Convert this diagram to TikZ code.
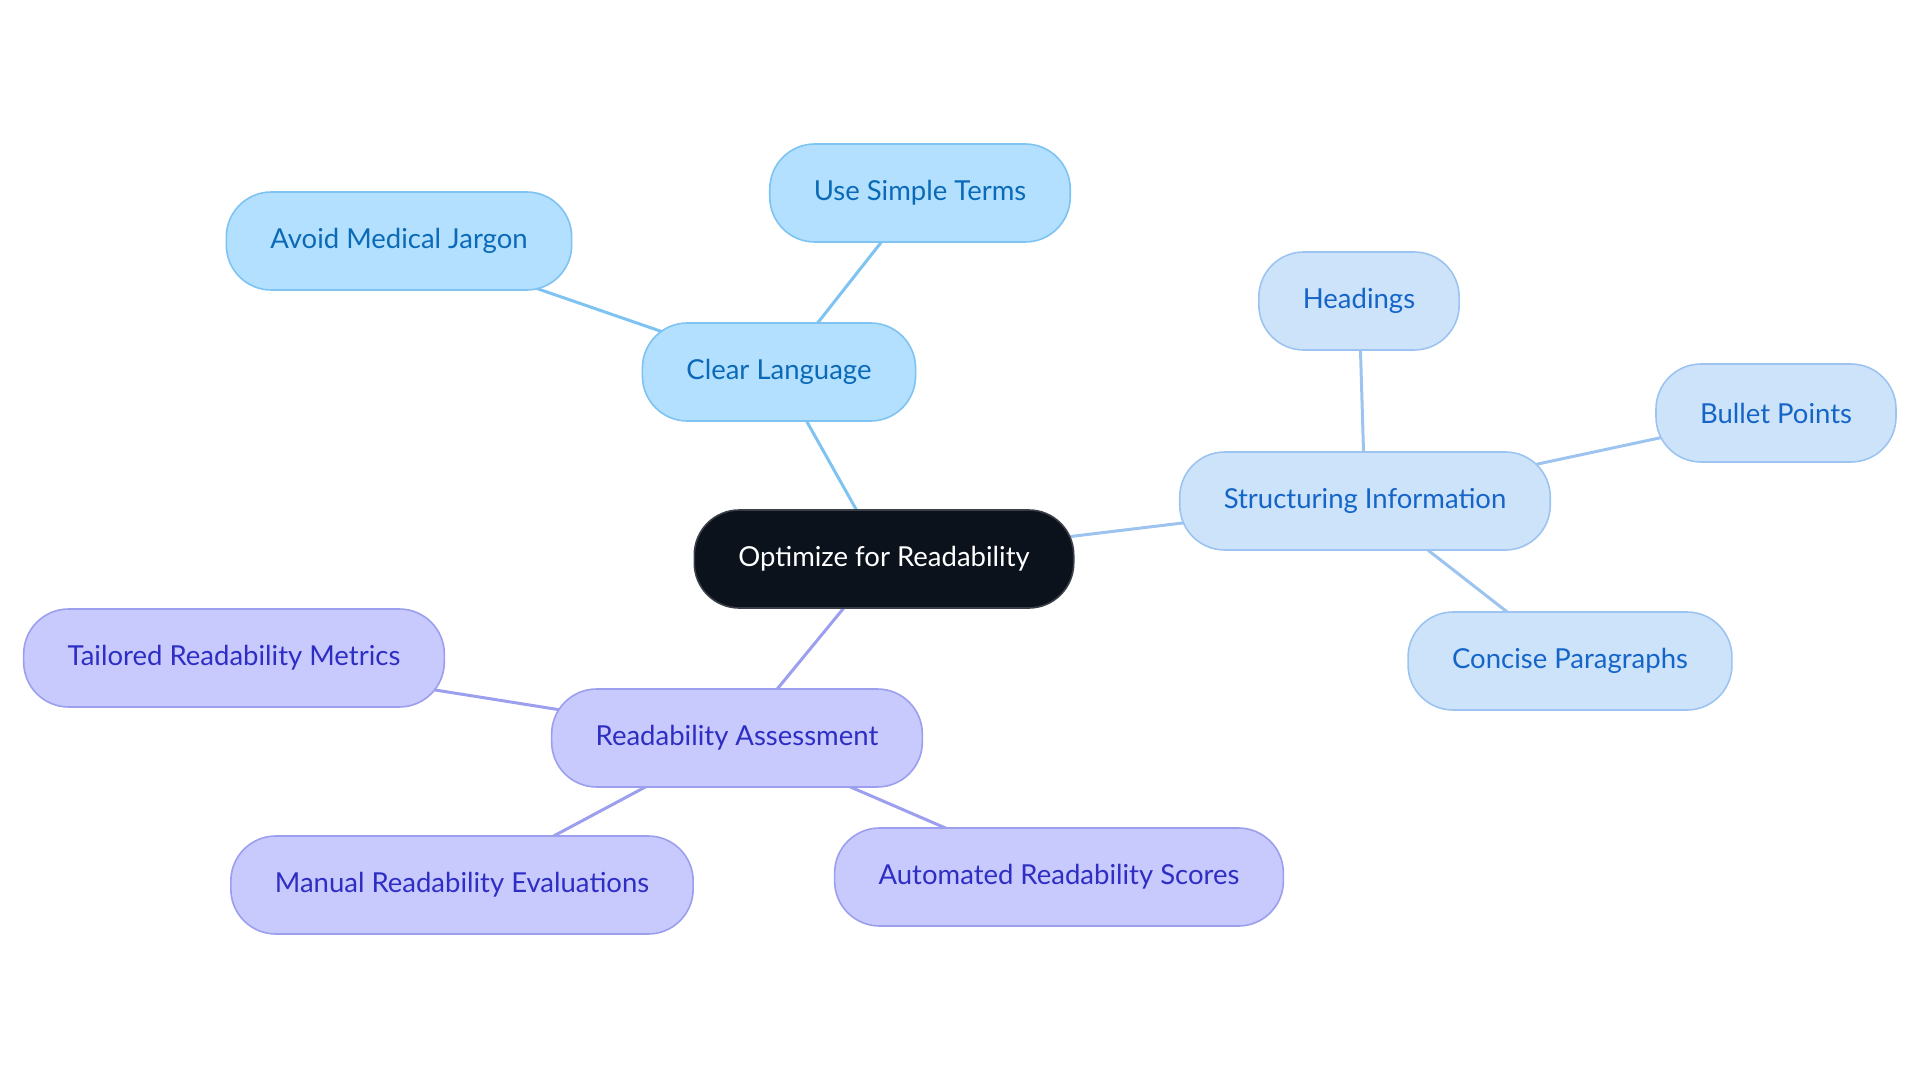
\documentclass[tikz,border=0pt]{standalone}
\usepackage{fontspec}
\setmainfont{Lato}
\usepackage{tikz}
\usetikzlibrary{positioning,backgrounds}
\definecolor{rootfill}{HTML}{0C121C}
\definecolor{rootline}{HTML}{3A3F47}
\definecolor{langfill}{HTML}{B3E0FE}
\definecolor{langline}{HTML}{7EC3F2}
\definecolor{langtext}{HTML}{0B6AB8}
\definecolor{strucfill}{HTML}{CCE3FA}
\definecolor{strucline}{HTML}{9DC4F0}
\definecolor{structext}{HTML}{1565C8}
\definecolor{assfill}{HTML}{C8C9FC}
\definecolor{assline}{HTML}{9C9EEE}
\definecolor{asstext}{HTML}{2E2EC4}
\tikzset{
	mapnode/.style={rectangle,rounded corners=45pt,minimum height=98pt,inner xsep=44pt,
		line width=1.6pt,font=\fontsize{27.5}{32}\selectfont},
	rootnode/.style={mapnode,fill=rootfill,draw=rootline,text=white},
	langnode/.style={mapnode,fill=langfill,draw=langline,text=langtext},
	strucnode/.style={mapnode,fill=strucfill,draw=strucline,text=structext},
	assnode/.style={mapnode,fill=assfill,draw=assline,text=asstext},
	mapedge/.style={line width=3pt}
}
\begin{document}
\begin{tikzpicture}[x=1pt,y=-1pt]
	\useasboundingbox (0,0) rectangle (1920,1083);
	
	% NODES
	\node[rootnode] (root) at (884,559) {Optimize for Readability};
	
	\node[langnode] (lang) at (779,372) {Clear Language};
	\node[langnode] (simple) at (920,193) {Use Simple Terms};
	\node[langnode] (jargon) at (399,241) {Avoid Medical Jargon};
	
	\node[strucnode] (struc) at (1365,501) {Structuring Information};
	\node[strucnode] (head) at (1359,301) {Headings};
	\node[strucnode] (bullet) at (1776,413) {Bullet Points};
	\node[strucnode] (concise) at (1570,661) {Concise Paragraphs};
	
	\node[assnode] (assess) at (737,738) {Readability Assessment};
	\node[assnode] (tailor) at (234,658) {Tailored Readability Metrics};
	\node[assnode] (manual) at (462,885) {Manual Readability Evaluations};
	\node[assnode] (auto) at (1059,877) {Automated Readability Scores};
	
	% EDGES (behind the nodes)
	\begin{scope}[on background layer]
		\draw[mapedge,langline] (root.center) -- (lang.center);
		\draw[mapedge,langline] (lang.center) -- (simple.center);
		\draw[mapedge,langline] (lang.center) -- (jargon.center);
		
		\draw[mapedge,strucline] (root.center) -- (struc.center);
		\draw[mapedge,strucline] (struc.center) -- (head.center);
		\draw[mapedge,strucline] (struc.center) -- (bullet.center);
		\draw[mapedge,strucline] (struc.center) -- (concise.center);
		
		\draw[mapedge,assline] (root.center) -- (assess.center);
		\draw[mapedge,assline] (assess.center) -- (tailor.center);
		\draw[mapedge,assline] (assess.center) -- (manual.center);
		\draw[mapedge,assline] (assess.center) -- (auto.center);
	\end{scope}
	
\end{tikzpicture}
\end{document}
